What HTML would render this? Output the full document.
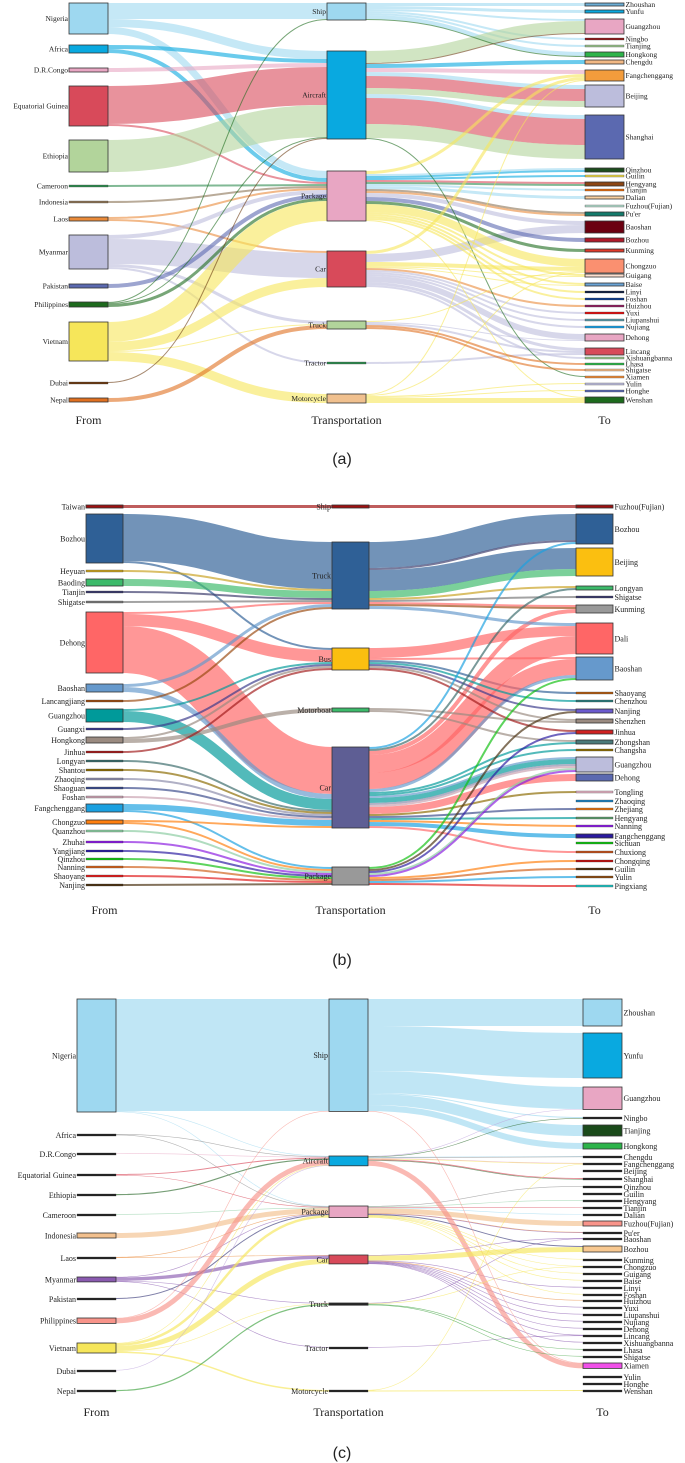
<!DOCTYPE html>
<html><head><meta charset="utf-8">
<style>
html,body{margin:0;padding:0;background:#fff;}
svg{display:block;}
text{font-family:"Liberation Serif",serif;fill:#222;}
.cap{font-family:"Liberation Sans",sans-serif;font-size:16px;}
</style></head>
<body>
<svg id="chart" width="685" height="1463" viewBox="0 0 685 1463" xmlns="http://www.w3.org/2000/svg"></svg>
<script>
// ---------- Panel (a) data ----------
const nodesA = [
["Nigeria",0,3,"#9ed8f0"],["Africa",0,45,"#09a9e0"],["D.R.Congo",0,68,"#e8a6c3"],["Equatorial Guinea",0,86,"#d84a5a"],
["Ethiopia",0,140,"#b2d49b"],["Cameroon",0,185,"#2d8a4e"],["Indonesia",0,201,"#8b7355"],["Laos",0,217,"#e98a3a"],
["Myanmar",0,235,"#bcbddc"],["Pakistan",0,284,"#5b69b0"],["Philippines",0,302,"#1d6a1d"],["Vietnam",0,322,"#f6e65a"],
["Dubai",0,382,"#6b3a10"],["Nepal",0,398,"#e07020"],
["Ship",1,3,"#9ed8f0"],["Aircraft",1,51,"#09a9e0"],["Package",1,171,"#e8a6c3"],["Car",1,251,"#d84a5a"],
["Truck",1,321,"#b2d49b"],["Tractor",1,362,"#2d8a4e"],["Motorcycle",1,394,"#f0c08e"],
["Zhoushan",2,3,"#6baed6"],["Yunfu",2,10,"#09a9e0"],["Guangzhou",2,19,"#e8a6c3"],["Ningbo",2,38,"#8b1a1a"],
["Tianjing",2,45,"#98c08a"],["Hongkong",2,52,"#2db34a"],["Chengdu",2,60,"#f2b985"],["Fangchenggang",2,70,"#f39c3c"],
["Beijing",2,85,"#bcbddc"],["Shanghai",2,115,"#5b69b0"],["Qinzhou",2,168,"#1d4d1d"],["Guilin",2,175,"#e6d34a"],
["Hengyang",2,182,"#8b4513"],["Tianjin",2,189,"#e06a10"],["Dalian",2,196,"#fad0a0"],["Fuzhou(Fujian)",2,205,"#b0d8c8"],
["Pu'er",2,212,"#137a6b"],["Baoshan",2,221,"#6b0010"],["Bozhou",2,238,"#b01a2a"],["Kunming",2,249,"#e03a2a"],
["Chongzuo",2,259,"#fa9070"],["Guigang",2,274,"#fde0d0"],["Baise",2,283,"#6aa4d6"],["Linyi",2,291,"#102040"],
["Foshan",2,298,"#0c3c8c"],["Huizhou",2,305,"#902060"],["Yuxi",2,312,"#e01010"],["Liupanshui",2,319,"#5a9aa8"],
["Nujiang",2,326,"#1a9ee0"],["Dehong",2,334,"#e8a6c3"],["Lincang",2,348,"#d84a5a"],["Xishuangbanna",2,357,"#98c08a"],
["Lhasa",2,363,"#2db34a"],["Shigatse",2,369,"#f2b985"],["Xiamen",2,376,"#e98a3a"],["Yulin",2,383,"#bcbddc"],
["Honghe",2,390,"#5b69b0"],["Wenshan",2,397,"#1d6a1d"]];
const flowsA = [
["Nigeria","Ship","Zhoushan",3],["Nigeria","Ship","Yunfu",3],["Nigeria","Ship","Guangzhou",2],["Nigeria","Ship","Ningbo",2],
["Nigeria","Ship","Tianjing",2],["Nigeria","Ship","Hongkong",4],["Nigeria","Aircraft","Beijing",4],["Nigeria","Aircraft","Shanghai",4],
["Nigeria","Package","Qinzhou",2],["Nigeria","Package","Tianjin",2],["Nigeria","Package","Dalian",3],
["Africa","Aircraft","Chengdu",4],["Africa","Package","Qinzhou",2],["Africa","Package","Guilin",2],
["D.R.Congo","Aircraft","Fangchenggang",4],
["Equatorial Guinea","Aircraft","Beijing",12],["Equatorial Guinea","Aircraft","Shanghai",26],["Equatorial Guinea","Package","Hengyang",2],
["Ethiopia","Aircraft","Guangzhou",12],["Ethiopia","Aircraft","Beijing",6],["Ethiopia","Aircraft","Shanghai",14],
["Cameroon","Package","Hengyang",2],["Indonesia","Package","Pu'er",2],
["Laos","Package","Pu'er",2],["Laos","Car","Huizhou",2],
["Myanmar","Package","Baoshan",4],["Myanmar","Car","Baoshan",8],["Myanmar","Car","Dehong",6],["Myanmar","Car","Lincang",3],
["Myanmar","Car","Yuxi",2],["Myanmar","Car","Liupanshui",2],["Myanmar","Car","Nujiang",2],["Myanmar","Car","Xishuangbanna",2],
["Myanmar","Truck","Dehong",1],["Myanmar","Truck","Lincang",2],["Myanmar","Tractor","Lincang",2],
["Pakistan","Package","Bozhou",4],
["Philippines","Ship","Hongkong",1],["Philippines","Aircraft","Xiamen",1],["Philippines","Package","Kunming",3],
["Vietnam","Package","Chongzuo",8],["Vietnam","Package","Fangchenggang",3],["Vietnam","Package","Guigang",2],["Vietnam","Package","Baise",2],
["Vietnam","Package","Linyi",2],["Vietnam","Package","Foshan",2],["Vietnam","Package","Wenshan",1],
["Vietnam","Car","Fangchenggang",3],["Vietnam","Car","Chongzuo",4],["Vietnam","Car","Guigang",1],["Vietnam","Car","Baise",1],
["Vietnam","Truck","Chongzuo",1],["Vietnam","Motorcycle","Wenshan",5],["Vietnam","Motorcycle","Fangchenggang",1],
["Vietnam","Motorcycle","Chongzuo",1],["Vietnam","Motorcycle","Yulin",1],["Vietnam","Motorcycle","Honghe",1],
["Dubai","Aircraft","Guangzhou",1],["Nepal","Truck","Lhasa",2],["Nepal","Truck","Shigatse",2]];

// ---------- Panel (b) data ----------
const nodesB = [
["Taiwan",0,505,"#a01010"],["Bozhou",0,514,"#2f6096"],["Heyuan",0,570,"#c8a020"],["Baoding",0,579,"#3cba6a"],
["Tianjin",0,591,"#3a3a6a"],["Shigatse",0,601,"#777777"],["Dehong",0,612,"#ff6666"],["Baoshan",0,684,"#6699cc"],
["Lancangjiang",0,700,"#9a4a10"],["Guangzhou",0,709,"#009a9a"],["Guangxi",0,728,"#3a3a8a"],["Hongkong",0,737,"#9a8a80"],
["Jinhua",0,751,"#a01a1a"],["Longyan",0,760,"#3a6a6a"],["Shantou",0,769,"#8a6a00"],["Zhaoqing",0,778,"#8a8aaa"],
["Shaoguan",0,787,"#3a4a8a"],["Foshan",0,796,"#c8a0b0"],["Fangchenggang",0,804,"#1aa0e0"],["Chongzuo",0,820,"#ff7f0e"],
["Quanzhou",0,830,"#8acca0"],["Zhuhai",0,841,"#8a1ae0"],["Yangjiang",0,850,"#2a1aa0"],["Qinzhou",0,858,"#10c010"],
["Nanning",0,866,"#d0601a"],["Shaoyang",0,875,"#e01a1a"],["Nanjing",0,884,"#4a3010"],
["Ship",1,505,"#a01010"],["Truck",1,542,"#2f6096"],["Bus",1,648,"#fbbf10"],["Motorboat",1,708,"#3cba6a"],
["Car",1,747,"#5e5e94"],["Package",1,867,"#999999"],
["Fuzhou(Fujian)",2,505,"#a01010"],["Bozhou",2,514,"#2f6096"],["Beijing",2,548,"#fbbf10"],["Longyan",2,586,"#3cba6a"],
["Shigatse",2,596,"#3a3a6a"],["Kunming",2,605,"#999999"],["Dali",2,623,"#ff6666"],["Baoshan",2,657,"#6699cc"],
["Shaoyang",2,692,"#b05a10"],["Chenzhou",2,700,"#2a7a7a"],["Nanjing",2,709,"#6a5acd"],["Shenzhen",2,719,"#9a8a80"],
["Jinhua",2,730,"#d02020"],["Zhongshan",2,740,"#4a7a7a"],["Changsha",2,749,"#8a6a00"],["Guangzhou",2,757,"#bcbddc"],
["Dehong",2,774,"#5b69b0"],["Tongling",2,791,"#e0b0c0"],["Zhaoqing",2,800,"#1a80c0"],["Zhejiang",2,808,"#e07010"],
["Hengyang",2,817,"#5a9a6a"],["Nanning",2,825,"#8a1ae0"],["Fangchenggang",2,834,"#2a1aa0"],["Sichuan",2,842,"#10c010"],
["Chuxiong",2,851,"#c0501a"],["Chongqing",2,860,"#c01010"],["Guilin",2,868,"#4a3010"],["Yulin",2,876,"#8a4a10"],
["Pingxiang",2,885,"#20c0c0"]];
const flowsB = [
["Taiwan","Ship","Fuzhou(Fujian)",3],
["Bozhou","Truck","Bozhou",26],["Bozhou","Truck","Beijing",21],["Bozhou","Bus","Shaoyang",2],
["Heyuan","Truck","Longyan",2],["Baoding","Truck","Beijing",7],["Tianjin","Truck","Bozhou",2],["Shigatse","Truck","Shigatse",2],
["Dehong","Truck","Kunming",2],["Dehong","Bus","Dali",10],["Dehong","Bus","Baoshan",2],["Dehong","Car","Kunming",4],
["Dehong","Car","Dali",18],["Dehong","Car","Baoshan",16],["Dehong","Car","Dehong",7],["Dehong","Car","Chuxiong",2],
["Baoshan","Truck","Dali",3],["Baoshan","Car","Baoshan",3],["Baoshan","Car","Guangzhou",2],
["Lancangjiang","Truck","Kunming",2],
["Guangzhou","Bus","Chenzhou",2],["Guangzhou","Car","Changsha",2],["Guangzhou","Car","Guangzhou",5],["Guangzhou","Car","Zhongshan",2],["Guangzhou","Car","Hengyang",2],
["Guangxi","Bus","Nanjing",2],["Hongkong","Bus","Shenzhen",2],["Hongkong","Motorboat","Shenzhen",2],["Hongkong","Motorboat","Zhongshan",2],
["Jinhua","Bus","Jinhua",2],["Longyan","Car","Longyan",2],["Shantou","Car","Tongling",2],["Zhaoqing","Car","Guangzhou",2],
["Shaoguan","Car","Zhejiang",2],["Foshan","Car","Guangzhou",2],
["Fangchenggang","Car","Bozhou",2],["Fangchenggang","Car","Fangchenggang",4],["Fangchenggang","Package","Yulin",2],
["Chongzuo","Car","Nanning",2],["Chongzuo","Package","Chongqing",2],["Quanzhou","Package","Guangzhou",2],
["Zhuhai","Package","Guangzhou",2],["Yangjiang","Package","Jinhua",2],["Qinzhou","Package","Baoshan",2],
["Nanning","Package","Guilin",2],["Shaoyang","Package","Pingxiang",2],["Nanjing","Package","Nanjing",2]];

// ---------- Panel (c) data ----------
const nodesC = [
["Nigeria",0,999,"#9ed8f0"],["Africa",0,1134,"#888"],["D.R.Congo",0,1153,"#e8a6c3"],["Equatorial Guinea",0,1174,"#d84a5a"],
["Ethiopia",0,1194,"#2d6a2d"],["Cameroon",0,1214,"#8acca0"],["Indonesia",0,1233,"#f2c08e"],["Laos",0,1257,"#e98a3a"],
["Myanmar",0,1277,"#8a5ab0"],["Pakistan",0,1298,"#3a3a7a"],["Philippines",0,1318,"#f8948a"],["Vietnam",0,1343,"#f6e65a"],
["Dubai",0,1370,"#bca0dc"],["Nepal",0,1390,"#3aa03a"],
["Ship",1,999,"#9ed8f0"],["Aircraft",1,1156,"#09a9e0"],["Package",1,1206,"#e8a6c3"],["Car",1,1255,"#d84a5a"],
["Truck",1,1303,"#222"],["Tractor",1,1347,"#222"],["Motorcycle",1,1390,"#222"],
["Zhoushan",2,999,"#9ed8f0"],["Yunfu",2,1033,"#09a9e0"],["Guangzhou",2,1087,"#e8a6c3"],["Ningbo",2,1117,"#222"],
["Tianjing",2,1125,"#1a4a1a"],["Hongkong",2,1143,"#2db34a"],["Chengdu",2,1156,"#222"],["Fangchenggang",2,1163,"#222"],
["Beijing",2,1170,"#222"],["Shanghai",2,1178,"#5b69b0"],["Qinzhou",2,1186,"#222"],["Guilin",2,1193,"#222"],
["Hengyang",2,1200,"#222"],["Tianjin",2,1207,"#222"],["Dalian",2,1214,"#222"],["Fuzhou(Fujian)",2,1221,"#f8948a"],
["Pu'er",2,1232,"#222"],["Baoshan",2,1238,"#222"],["Bozhou",2,1246,"#f8c890"],["Kunming",2,1259,"#222"],
["Chongzuo",2,1266,"#222"],["Guigang",2,1273,"#222"],["Baise",2,1280,"#222"],["Linyi",2,1287,"#222"],
["Foshan",2,1294,"#222"],["Huizhou",2,1300,"#222"],["Yuxi",2,1307,"#222"],["Liupanshui",2,1314,"#222"],
["Nujiang",2,1321,"#222"],["Dehong",2,1328,"#222"],["Lincang",2,1335,"#222"],["Xishuangbanna",2,1342,"#222"],
["Lhasa",2,1349,"#222"],["Shigatse",2,1356,"#222"],["Xiamen",2,1363,"#f050e8"],["Yulin",2,1376,"#222"],
["Honghe",2,1383,"#222"],["Wenshan",2,1390,"#222"]];
const flowsC = [
["Nigeria","Ship","Zhoushan",27],["Nigeria","Ship","Yunfu",45],["Nigeria","Ship","Guangzhou",22],["Nigeria","Ship","Ningbo",1],
["Nigeria","Ship","Tianjing",11],["Nigeria","Ship","Hongkong",6],["Nigeria","Aircraft","Chengdu",0.5],["Nigeria","Package","Dalian",0.5],
["Africa","Aircraft","Chengdu",0.6],["Africa","Package","Qinzhou",0.6],["D.R.Congo","Aircraft","Fangchenggang",0.5],
["Equatorial Guinea","Aircraft","Shanghai",1],["Equatorial Guinea","Package","Tianjin",0.5],
["Ethiopia","Aircraft","Ningbo",0.6],["Ethiopia","Aircraft","Shanghai",0.6],["Cameroon","Package","Hengyang",0.6],
["Indonesia","Package","Fuzhou(Fujian)",5],["Laos","Package","Pu'er",0.5],["Laos","Car","Huizhou",0.5],
["Myanmar","Car","Baoshan",0.6],["Myanmar","Car","Linyi",0.4],["Myanmar","Car","Yuxi",0.4],["Myanmar","Car","Liupanshui",0.4],
["Myanmar","Car","Nujiang",0.4],["Myanmar","Car","Dehong",0.4],["Myanmar","Car","Lincang",0.4],["Myanmar","Car","Xishuangbanna",0.4],
["Myanmar","Truck","Baoshan",0.5],["Myanmar","Tractor","Lincang",0.6],["Myanmar","Package","Pu'er",0.4],
["Pakistan","Package","Bozhou",1],["Philippines","Ship","Xiamen",0.4],["Philippines","Aircraft","Xiamen",5],
["Vietnam","Car","Bozhou",5],["Vietnam","Package","Kunming",0.5],["Vietnam","Package","Chongzuo",0.5],["Vietnam","Package","Guigang",0.5],
["Vietnam","Package","Baise",0.5],["Vietnam","Package","Foshan",0.5],["Vietnam","Aircraft","Fangchenggang",0.5],
["Vietnam","Truck","Chongzuo",0.5],["Vietnam","Motorcycle","Wenshan",1],["Vietnam","Motorcycle","Fangchenggang",0.5],
["Dubai","Aircraft","Guangzhou",0.5],["Nepal","Truck","Lhasa",0.6],["Nepal","Truck","Shigatse",0.6]];

const NS = "http://www.w3.org/2000/svg";
const svg = document.getElementById('chart');

function drawPanel(pid, nodes, flows, cols, nodeW, opacity, fs, titleY, titles, capY, cap, thinMode) {
  const g = document.createElementNS(NS, 'g');
  
  
  svg.appendChild(g);
  const N = {};
  nodes.forEach(([n, c, t, col]) => { N[c + ':' + n] = {name: n, col: c, top: t, color: col, ins: [], outs: []}; });
  const s1 = {}, s2 = {};
  flows.forEach(([f, m, t, v]) => {
    const a = N['0:' + f], b = N['1:' + m], d = N['2:' + t];
    if (!a || !b || !d) return;
    const k = f + '|' + m;
    if (!s1[k]) s1[k] = {a: a, b: b, v: 0, color: a.color, o: a.top};
    s1[k].v += v;
    const k2 = f + '|' + m + '|' + t;
    if (!s2[k2]) s2[k2] = {a: b, b: d, v: 0, color: a.color, o: a.top};
    s2[k2].v += v;
  });
  const segs = Object.values(s1).concat(Object.values(s2));
  segs.forEach(s => { s.a.outs.push(s); s.b.ins.push(s); });
  Object.values(N).forEach(n => {
    n.outs.sort((p, q) => (p.b.top - q.b.top) || (p.o - q.o));
    let o = 0; n.outs.forEach(s => { s.y0 = n.top + o + s.v / 2; o += s.v; });
    n.ins.sort((p, q) => (p.a.top - q.a.top) || (p.o - q.o));
    let i = 0; n.ins.forEach(s => { s.y1 = n.top + i + s.v / 2; i += s.v; });
    n.h = Math.max(o, i);
  });
  segs.forEach(s => {
    const x0 = cols[s.a.col] + nodeW, x1 = cols[s.b.col], xm = (x0 + x1) / 2;
    const p = document.createElementNS(NS, 'path');
    p.setAttribute('d', `M${x0},${s.y0} C${xm},${s.y0} ${xm},${s.y1} ${x1},${s.y1}`);
    p.setAttribute('fill', 'none');
    p.setAttribute('stroke', s.color === '#222' ? '#888' : s.color);
    p.setAttribute('stroke-width', Math.max(s.v, thinMode ? 0.6 : 1));
    p.setAttribute('stroke-opacity', opacity);
    
    
    g.appendChild(p);
  });
  Object.values(N).forEach(n => {
    const small = n.h < 2.2;
    const r = document.createElementNS(NS, 'rect');
    r.setAttribute('x', cols[n.col]);
    r.setAttribute('y', n.top);
    r.setAttribute('width', nodeW);
    r.setAttribute('height', Math.max(n.h, 2));
    r.setAttribute('fill', (thinMode && small) ? '#222' : n.color);
    r.setAttribute('stroke', '#333');
    r.setAttribute('stroke-width', small ? 0.3 : 0.8);
    
    
    g.appendChild(r);
    const tx = document.createElementNS(NS, 'text');
    const cy = n.top + Math.max(n.h, 2) / 2 + fs * 0.35;
    if (n.col === 2) { tx.setAttribute('x', cols[2] + nodeW + 1.5); tx.setAttribute('text-anchor', 'start'); }
    else { tx.setAttribute('x', cols[n.col] - 1); tx.setAttribute('text-anchor', 'end'); }
    tx.setAttribute('y', cy);
    tx.setAttribute('font-size', fs);
    
    
    tx.textContent = n.name;
    g.appendChild(tx);
  });
  titles.forEach((t, i) => {
    const tx = document.createElementNS(NS, 'text');
    tx.setAttribute('x', cols[i] + nodeW / 2);
    tx.setAttribute('y', titleY);
    tx.setAttribute('text-anchor', 'middle');
    tx.setAttribute('font-size', 12);
    
    
    tx.textContent = t;
    g.appendChild(tx);
  });
  const c = document.createElementNS(NS, 'text');
  c.setAttribute('x', 342); c.setAttribute('y', capY);
  c.setAttribute('text-anchor', 'middle');
  c.setAttribute('class', 'cap');
  
  
  c.textContent = cap;
  g.appendChild(c);
}

const T = ["From", "Transportation", "To"];
drawPanel('a', nodesA, flowsA, [69, 327, 585], 39, 0.6, 7.5, 424, T, 464, "(a)", false);
drawPanel('b', nodesB, flowsB, [86, 332, 576], 37, 0.68, 8, 914, T, 965, "(b)", false);
drawPanel('c', nodesC, flowsC, [77, 329, 583], 39, 0.65, 8, 1416, T, 1458, "(c)", true);
</script>
</body></html>
